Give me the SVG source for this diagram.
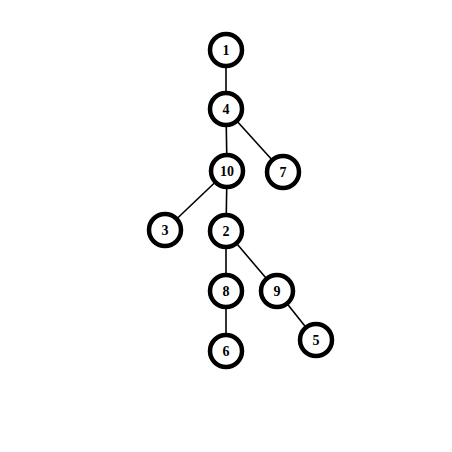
<svg xmlns="http://www.w3.org/2000/svg" width="452" height="452" viewBox="0 0 452 452">
<style>
.n circle{fill:#fff;stroke:#000;stroke-width:4.5}
.n text{font-family:"Liberation Serif",serif;font-weight:bold;font-size:14px;text-anchor:middle;dominant-baseline:central;fill:#000}
#edges line{stroke:#000;stroke-width:1.6}
</style>
<rect width="452" height="452" fill="#fff"/>
<g id="edges">
<line x1="226" y1="50" x2="226" y2="109"/>
<line x1="226" y1="109" x2="227" y2="171"/>
<line x1="226" y1="109" x2="283" y2="172"/>
<line x1="227" y1="171" x2="165" y2="230"/>
<line x1="227" y1="171" x2="226" y2="231"/>
<line x1="226" y1="231" x2="226" y2="291"/>
<line x1="226" y1="231" x2="277" y2="291"/>
<line x1="226" y1="291" x2="226" y2="351"/>
<line x1="277" y1="291" x2="316" y2="340"/>
</g>
<g id="n1" class="n"><circle cx="226" cy="50" r="16"/><text x="226" y="50">1</text></g>
<g id="n4" class="n"><circle cx="226" cy="109" r="16"/><text x="226" y="109">4</text></g>
<g id="n10" class="n"><circle cx="227" cy="171" r="16"/><text x="227" y="171">10</text></g>
<g id="n7" class="n"><circle cx="283" cy="172" r="16"/><text x="283" y="172">7</text></g>
<g id="n3" class="n"><circle cx="165" cy="230" r="16"/><text x="165" y="230">3</text></g>
<g id="n2" class="n"><circle cx="226" cy="231" r="16"/><text x="226" y="231">2</text></g>
<g id="n8" class="n"><circle cx="226" cy="291" r="16"/><text x="226" y="291">8</text></g>
<g id="n9" class="n"><circle cx="277" cy="291" r="16"/><text x="277" y="291">9</text></g>
<g id="n6" class="n"><circle cx="226" cy="351" r="16"/><text x="226" y="351">6</text></g>
<g id="n5" class="n"><circle cx="316" cy="340" r="16"/><text x="316" y="340">5</text></g>
</svg>
